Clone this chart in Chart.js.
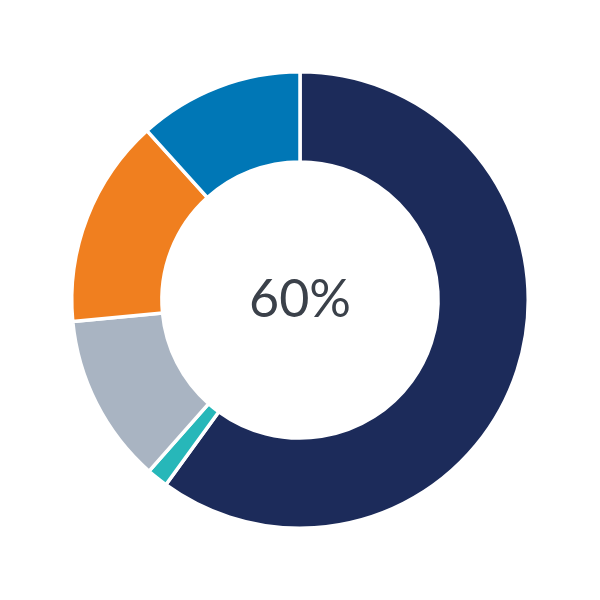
<!DOCTYPE html>
<html>
<head>
<meta charset="utf-8">
<script src="https://cdn.jsdelivr.net/npm/chart.js@4"></script>
<style>
  html, body { margin: 0; padding: 0; background: #fff; }
  #wrap { width: 600px; height: 600px; position: relative; }
</style>
</head>
<body>
<div id="wrap"><canvas id="grafico"></canvas></div>
<script>
const categorias = ['A', 'B', 'C', 'D', 'E'];
const valores = [60, 1.5, 12, 14.8, 11.7];
const colores = ['#1c2b5a', '#27b7b9', '#a9b4c2', '#f07f1f', '#0077b6'];
const textoCentro = '60%';

// texto en el centro del anillo
const centroPlugin = {
    id: 'centro',
    afterDraw(chart) {
        const meta = chart.getDatasetMeta(0).data[0];
        if (!meta) return;
        const ctx = chart.ctx;
        ctx.save();
        ctx.font = '400 52px Lato';
        ctx.fillStyle = '#3b414a';
        ctx.textAlign = 'center';
        ctx.textBaseline = 'middle';
        ctx.fillText(textoCentro, meta.x, meta.y);
        ctx.restore();
    }
};

new Chart(document.getElementById('grafico').getContext('2d'), {
    type: 'doughnut',
    data: {
        labels: categorias,
        datasets: [{
            data: valores,
            backgroundColor: colores,
            borderColor: '#ffffff',
            borderWidth: 3.5
        }]
    },
    options: {
        responsive: true,
        maintainAspectRatio: false,
        animation: false,
        cutout: '60.5%',
        layout: { padding: 70 },
        plugins: {
            legend: { display: false },
            tooltip: { enabled: false }
        }
    },
    plugins: [centroPlugin]
});
</script>
</body>
</html>
